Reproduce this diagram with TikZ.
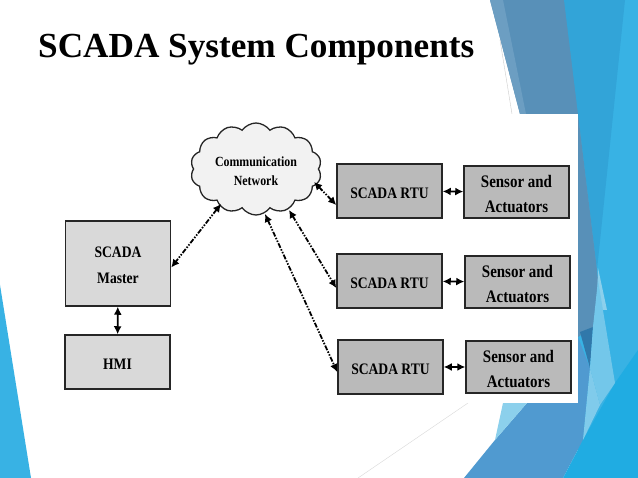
\documentclass[tikz,border=0pt]{standalone}
\usepackage{fontspec}
\setmainfont{Liberation Serif}
\newfontfamily\boxfont{Liberation Serif}[FakeStretch=0.85]
\usetikzlibrary{shapes.symbols,arrows.meta}
\definecolor{slateblue}{RGB}{88,144,184}
\definecolor{paleslate}{RGB}{108,158,194}
\definecolor{midblue}{RGB}{50,164,216}
\definecolor{lightblue}{RGB}{56,178,228}
\definecolor{steelblue}{RGB}{80,154,208}
\definecolor{paleblue}{RGB}{140,208,236}
\definecolor{brightblue}{RGB}{32,172,226}
\definecolor{darkblue}{RGB}{48,120,170}
\tikzset{
  box/.style={draw=black!85,line width=1.5pt,fill=#1,minimum width=105pt,minimum height=54pt,inner sep=0pt,align=center,font=\boxfont\bfseries\fontsize{16}{26}\selectfont},
  box/.default={black!27},
  sensor/.style={box,minimum height=52pt,font=\boxfont\bfseries\fontsize{17.6}{25}\selectfont},
  lift/.style={execute at begin node=\rule{0pt}{#1}},
  link/.style={line width=1.8pt,{Latex[length=8pt,width=8pt]}-{Latex[length=8pt,width=8pt]}},
  dotted link/.style={link,dash pattern=on 5pt off 1.5pt on 1.5pt off 1.5pt on 1.5pt off 1.5pt}
}
\begin{document}
\begin{tikzpicture}[x=1pt,y=-1pt]
  \useasboundingbox (0,0) rectangle (638,478);
  \fill[white] (0,0) rectangle (638,478);

  % Slide background
  \fill[lightblue] (578,0) rectangle (638,478);
  \fill[slateblue] (490,0) -- (520,114) -- (578,114) -- (578,0) -- cycle;
  \fill[paleslate] (490,0) -- (520,114) -- (526,114) -- (503,0) -- cycle;
  \fill[midblue] (564,0) -- (625,0) -- (597,270) -- (578,114) -- cycle;
  \fill[slateblue] (578,114) -- (597,270) -- (599,290) -- (593,327) -- (578,337) -- cycle;
  \fill[paleblue] (598,268) -- (607,310) -- (597,310) -- cycle;
  \fill[steelblue] (464,478) -- (495,440) -- (527,403) -- (578,403) -- (578,337) -- (590,368) -- (583,440) -- (563,478) -- cycle;
  \fill[paleblue] (503,403) -- (527,403) -- (495,440) -- cycle;
  \fill[darkblue] (580,332) -- (593,327) -- (590,368) -- cycle;
  \fill[brightblue] (563,478) -- (583,440) -- (615,383) -- (638,350) -- (638,478) -- cycle;
  \fill[paleblue!70!lightblue] (598,280) -- (615,383) -- (600,405) -- (590,368) -- (593,327) -- cycle;
  \fill[paleblue!85!lightblue] (590,368) -- (600,405) -- (583,440) -- cycle;
  \fill[lightblue] (0,285) -- (31,478) -- (0,478) -- cycle;
  \draw[black!20,line width=.4pt] (500,40) -- (512,114);
  \draw[black!15,line width=.4pt] (468,403) -- (358,478);

  % Diagram
  \fill[white] (185,114) rectangle (578,403);
  \node[anchor=west,inner sep=0pt,font=\bfseries\fontsize{35.2}{40}\selectfont] (title) at (38,50) {SCADA System Components};

  \node[box=black!15,minimum height=85pt,lift=41pt] (master) at (118,263.5) {SCADA\\Master};
  \node[box=black!15,lift=15pt] (hmi) at (117.5,362) {HMI};
  \node[box,lift=15pt] (rtuA) at (389.5,191) {SCADA RTU};
  \node[box,lift=15pt] (rtuB) at (389.5,281) {SCADA RTU};
  \node[box,lift=15pt] (rtuC) at (390.5,367) {SCADA RTU};
  \node[sensor,lift=41pt] (sensorA) at (516.5,192) {Sensor and\\Actuators};
  \node[sensor,lift=41pt] (sensorB) at (517.5,282) {Sensor and\\Actuators};
  \node[sensor,lift=41pt] (sensorC) at (518.5,367) {Sensor and\\Actuators};

  \node[cloud,cloud puffs=14,cloud puff arc=110,aspect=1.6,draw=black!85,line width=1.3pt,fill=black!5,
        minimum width=131pt,minimum height=92pt,inner sep=0pt,align=center,lift=33pt,
        font=\boxfont\bfseries\fontsize{14}{19}\selectfont] (cloud) at (256,169) {Communication\\Network};

  % Links
  \coordinate (cloudW) at (221,204);
  \coordinate (cloudA) at (314,182);
  \coordinate (cloudB) at (289,210);
  \coordinate (cloudC) at (265,214);
  \draw[dotted link] (cloudW) -- ([yshift=-4pt]master.east);
  \draw[dotted link] (cloudA) -- ([yshift=-14pt]rtuA.west);
  \draw[dotted link] (cloudB) -- ([yshift=-7pt]rtuB.west);
  \draw[dotted link] (cloudC) -- ([yshift=-5pt]rtuC.west);
  \draw[link] (master) -- (hmi);
  \draw[link] (rtuA) -- (sensorA);
  \draw[link] (rtuB) -- (sensorB);
  \draw[link] (rtuC) -- (sensorC);
\end{tikzpicture}
\end{document}
